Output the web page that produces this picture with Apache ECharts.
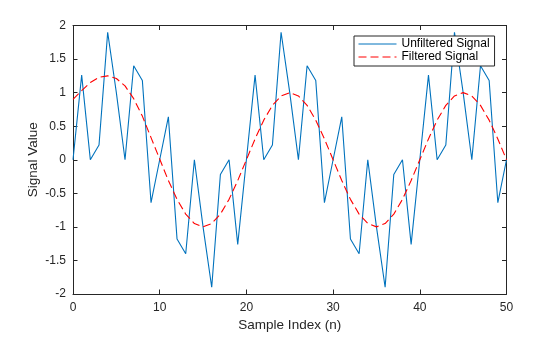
<!DOCTYPE html>
<html>
<head>
<meta charset="utf-8">
<script src="https://cdn.jsdelivr.net/npm/echarts@6/dist/echarts.min.js"></script>
<style>
  html, body { margin: 0; padding: 0; background: #fff; }
  #chart { width: 560px; height: 337px; }
</style>
</head>
<body>
<div id="chart"></div>
<script>
// Sample indices
const sampleIndex = [0,1,2,3,4,5,6,7,8,9,10,11,12,13,14,15,16,17,18,19,20,21,22,23,24,25,26,27,28,29,30,31,32,33,34,35,36,37,38,39,40,41,42,43,44,45,46,47,48,49,50];
// Values
const unfilteredSignal = [0, 1.26, 0, 0.22, 1.90, 1.00, 0, 1.40, 1.18, -0.64, 0, 0.64, -1.18, -1.40, 0, -1.00, -1.90, -0.22, 0, -1.26,
  0, 1.26, 0, 0.22, 1.90, 1.00, 0, 1.40, 1.18, -0.64, 0, 0.64, -1.18, -1.40, 0, -1.00, -1.90, -0.22, 0, -1.26,
  0, 1.26, 0, 0.22, 1.90, 1.00, 0, 1.40, 1.18, -0.64, 0];
const filteredSignal = [0.90, 1.03, 1.15, 1.23, 1.25, 1.21, 1.10, 0.91, 0.65, 0.33, 0.01,
  -0.31, -0.59, -0.81, -0.95, -1.00, -0.95, -0.81, -0.59, -0.31, 0.00,
  0.31, 0.59, 0.81, 0.95, 1.00, 0.95, 0.81, 0.59, 0.31, 0.00,
  -0.31, -0.59, -0.81, -0.95, -1.00, -0.95, -0.81, -0.59, -0.31, 0.00,
  0.31, 0.59, 0.81, 0.95, 1.00, 0.95, 0.81, 0.59, 0.31, 0.00];
const seriesNames = ['Unfiltered Signal', 'Filtered Signal'];
const xTitle = 'Sample Index (n)';
const yTitle = 'Signal Value';

const FONT = 'Liberation Sans, Arial, sans-serif';
const AX = '#262626';

function pairs(ys) { return sampleIndex.map((x, i) => [x, ys[i]]); }

const chart = echarts.init(document.getElementById('chart'), null, { renderer: 'canvas' });

const baseAxis = {
  axisLine: { show: true, onZero: false, lineStyle: { color: AX, width: 1 } },
  axisTick: { show: true, inside: true, length: 4.5, lineStyle: { color: AX, width: 1 } },
  splitLine: { show: false }
};

chart.setOption({
  animation: false,
  backgroundColor: '#fff',
  textStyle: { fontFamily: FONT },
  grid: { left: 73, right: 53.5, top: 25.5, bottom: 39.5, containLabel: false },
  legend: {
    data: seriesNames,
    orient: 'vertical',
    left: 354,
    top: 36,
    padding: [2, 5, 3, 4],
    itemGap: 1,
    itemWidth: 38,
    itemHeight: 12,
    backgroundColor: '#fff',
    borderColor: AX,
    borderWidth: 1,
    borderRadius: 0,
    itemStyle: { opacity: 0 },
    lineStyle: { width: 1 },
    textStyle: { fontFamily: FONT, fontSize: 12, color: '#000', padding: [0, 0, 0, 0] }
  },
  xAxis: [
    Object.assign({}, baseAxis, {
      type: 'value', min: 0, max: 50, interval: 10, position: 'bottom',
      name: xTitle, nameLocation: 'middle', nameGap: 24, nameMoveOverlap: false,
      nameTextStyle: { fontFamily: FONT, fontSize: 13.5, color: AX },
      axisLabel: { show: true, margin: 8, fontFamily: FONT, fontSize: 12, color: AX }
    }),
    Object.assign({}, baseAxis, {
      type: 'value', min: 0, max: 50, interval: 10, position: 'top',
      axisLabel: { show: false }
    })
  ],
  yAxis: [
    Object.assign({}, baseAxis, {
      type: 'value', min: -2, max: 2, interval: 0.5, position: 'left',
      name: yTitle, nameLocation: 'middle', nameGap: 33, nameMoveOverlap: false,
      nameTextStyle: { fontFamily: FONT, fontSize: 13.5, color: AX },
      axisLabel: { show: true, margin: 7, fontFamily: FONT, fontSize: 12, color: AX }
    }),
    Object.assign({}, baseAxis, {
      type: 'value', min: -2, max: 2, interval: 0.5, position: 'right',
      axisLabel: { show: false }
    })
  ],
  series: [
    {
      name: seriesNames[0], type: 'line', xAxisIndex: 0, yAxisIndex: 0,
      data: pairs(unfilteredSignal),
      symbol: 'none', showSymbol: false,
      lineStyle: { color: '#0072BD', width: 1.1 },
      itemStyle: { color: '#0072BD' },
      z: 2
    },
    {
      name: seriesNames[1], type: 'line', xAxisIndex: 0, yAxisIndex: 0,
      data: pairs(filteredSignal),
      symbol: 'none', showSymbol: false,
      lineStyle: { color: '#FF0000', width: 1.1, type: [8, 4] },
      itemStyle: { color: '#FF0000' },
      z: 3
    }
  ]
});
</script>
</body>
</html>
